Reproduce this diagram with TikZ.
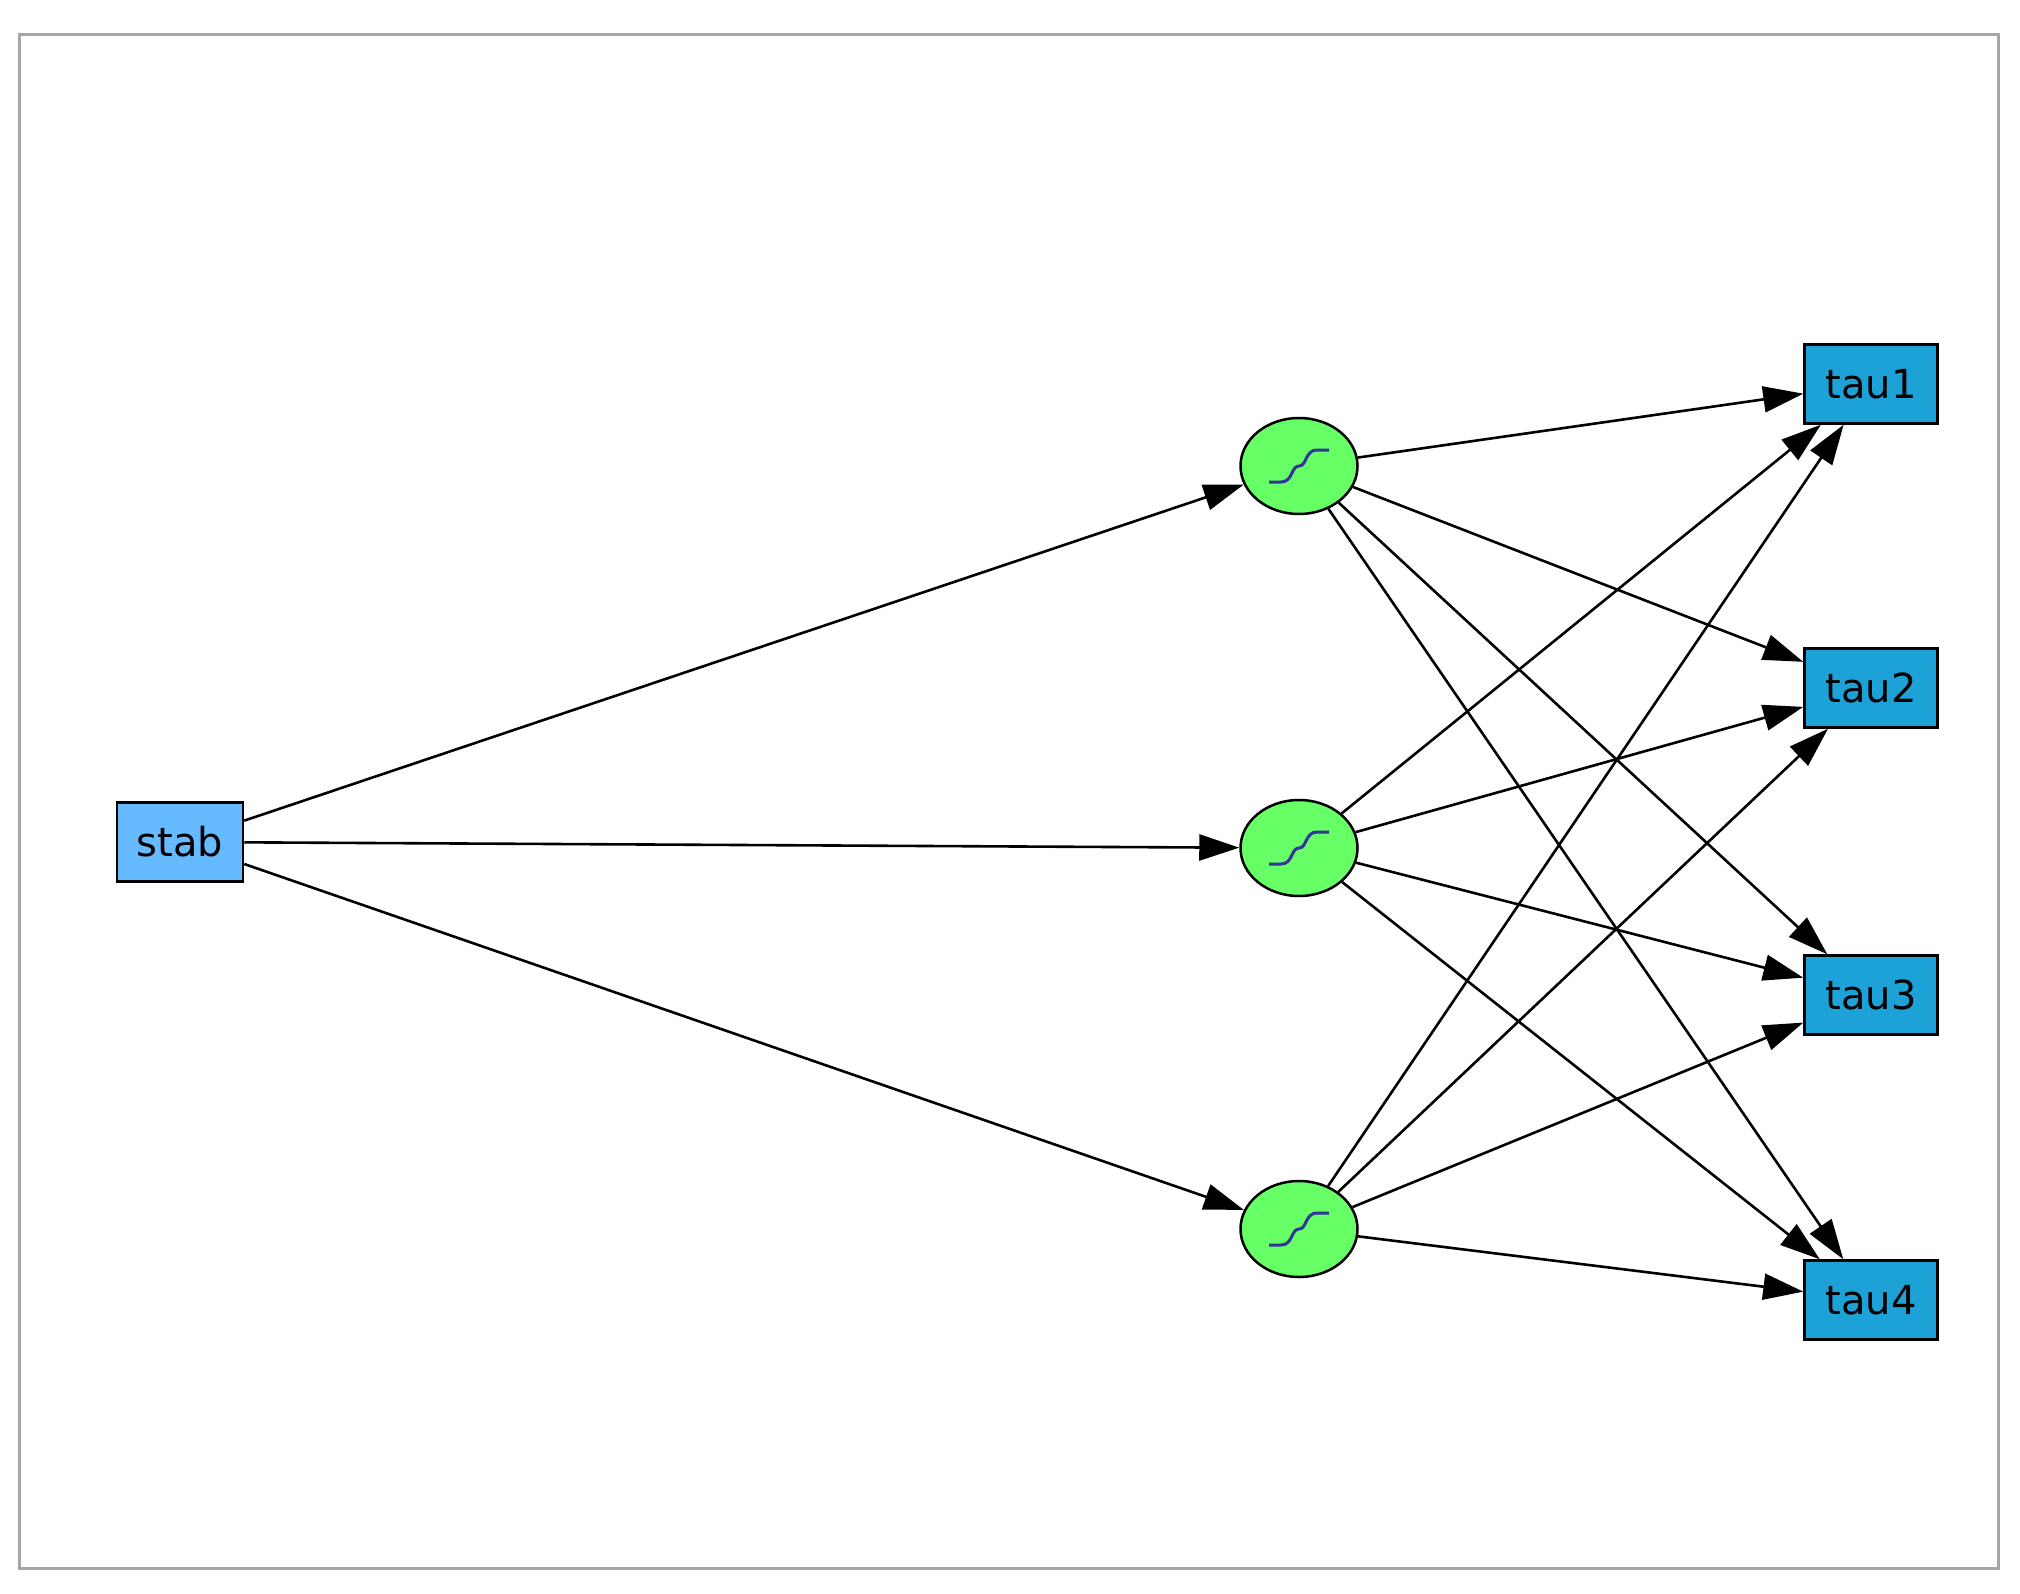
\documentclass[tikz,border=0pt]{standalone}
\usepackage{fontspec}
\setmainfont{DejaVu Sans}
\usetikzlibrary{arrows.meta,shapes.geometric,calc}
\begin{document}
\begin{tikzpicture}[x=1pt,y=-1pt,
  box/.style={draw=black,line width=2.5pt,minimum width=126pt,minimum height=79pt,inner sep=0pt,font=\fontsize{40}{40}\selectfont},
  tau/.style={box,fill=cyan!75!teal,minimum width=133pt},
  neu/.style={ellipse,draw=black,line width=2.5pt,fill=green!60!white,minimum width=117pt,minimum height=96pt,inner sep=0pt},
  edge/.style={line width=2.6pt,-{Triangle[length=40pt,width=26pt]}}]
\useasboundingbox (0,0) rectangle (2020,1594);
\draw[gray!70,line width=3pt] (19,35) rectangle (1998,1568);
\node[box,fill=blue!45!cyan!60!white] (s) at (180,842) {stab};
\foreach \i/\y in {1/466,2/848,3/1229}{
  \node[neu] (h\i) at (1299,\y) {};
  \draw[blue!50!black!80,line width=3pt] ($(h\i)+(-30,16)$) -- ++(12,0) .. controls +(12,0) and +(-8,0) .. ++(18,-16) .. controls +(8,0) and +(-12,0) .. ++(18,-16) -- ++(12,0);
}
\foreach \j/\y in {1/384,2/688,3/995,4/1300}{
  \node[tau] (t\j) at (1871,\y) {tau\j};
}
\foreach \i in {1,2,3}{ \draw[edge] (s) -- (h\i); }
\foreach \i in {1,2,3}{ \foreach \j in {1,2,3,4}{ \draw[edge] (h\i) -- (t\j); } }
\end{tikzpicture}
\end{document}
